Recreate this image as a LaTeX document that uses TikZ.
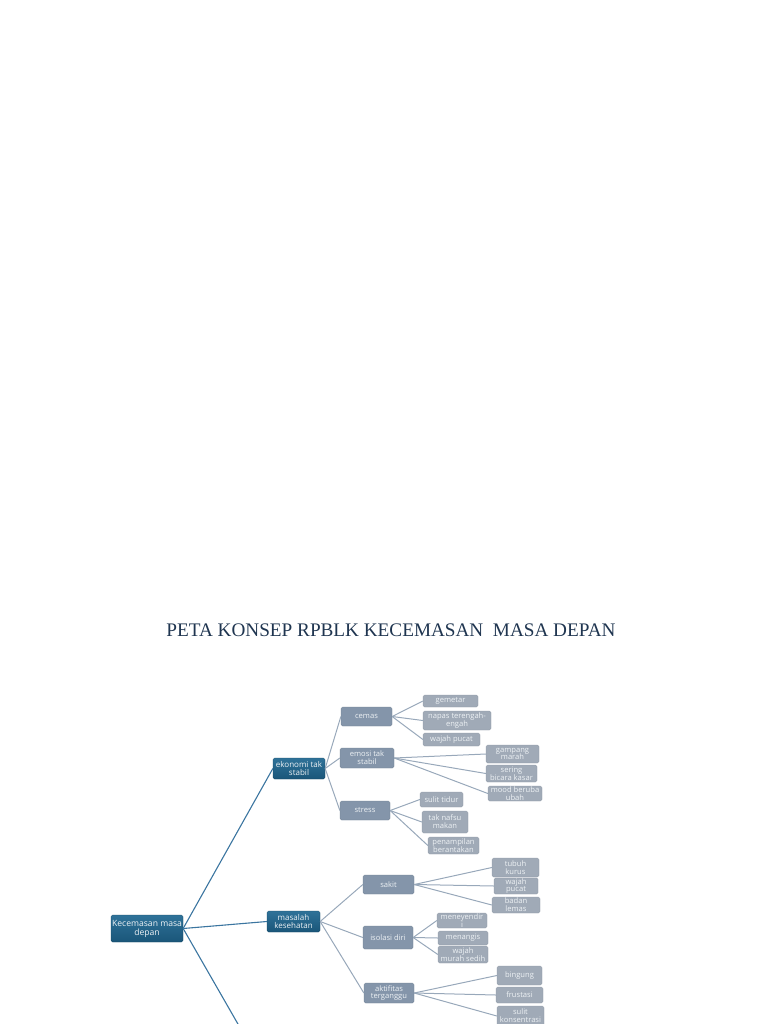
\documentclass[tikz,border=0pt]{standalone}
\usepackage{fontspec}
\setmainfont{Liberation Serif}
\newfontfamily\nodefont{Open Sans}
\definecolor{titlec}{HTML}{1F3550}
\definecolor{darktop}{HTML}{2F7299}
\definecolor{darkbot}{HTML}{1A5679}
\definecolor{midc}{HTML}{8495AA}
\definecolor{leafc}{HTML}{A0AAB7}
\definecolor{rootedge}{HTML}{3B75A0}
\definecolor{subedge}{HTML}{98A8BA}
\definecolor{txtc}{HTML}{EEF2F5}
\begin{document}
\begin{tikzpicture}[x=1pt,y=-1pt,
  box/.style={rounded corners=1.5pt, inner sep=0.3pt, align=center, text=txtc,
    font=\nodefont\fontsize{7.6}{7.9}\selectfont},
  darkbox/.style={box, top color=darktop, bottom color=darkbot, draw=darkbot!80!black, line width=0.3pt},
  midbox/.style={box, fill=midc, draw=midc!85!black, line width=0.3pt},
  leafbox/.style={box, fill=leafc, draw=leafc!90!black, line width=0.3pt},
  rootline/.style={draw=rootedge, line width=1.1pt},
  subline/.style={draw=subedge, line width=1pt}]
\useasboundingbox (0,0) rectangle (768,1024);
\clip (0,0) rectangle (768,1024);
\node[font=\fontsize{19.2}{22}\selectfont, text=titlec] (title) at (391,630) {PETA KONSEP RPBLK KECEMASAN\ \ MASA DEPAN};

% root and level 1
\node[darkbox, minimum width=72, minimum height=27, font=\nodefont\fontsize{8.6}{9}\selectfont] (root) at (147,928.5) {Kecemasan masa\\depan};
\node[darkbox, minimum width=52, minimum height=21, font=\nodefont\fontsize{8}{8.3}\selectfont] (eko) at (299,768.5) {ekonomi tak\\stabil};
\node[darkbox, minimum width=53, minimum height=21, font=\nodefont\fontsize{8}{8.3}\selectfont] (mas) at (293.5,921.5) {masalah\\kesehatan};
\coordinate (off) at (250,1045);

% level 2
\node[midbox, minimum width=51, minimum height=19] (cemas) at (366.5,716.5) {cemas};
\node[midbox, minimum width=54, minimum height=20] (emosi) at (367,758) {emosi tak\\stabil};
\node[midbox, minimum width=50, minimum height=19] (stress) at (365,810.5) {stress};
\node[midbox, minimum width=51, minimum height=19] (sakit) at (388.5,884.5) {sakit};
\node[midbox, minimum width=50, minimum height=23] (isolasi) at (388,937.5) {isolasi diri};
\node[midbox, minimum width=50, minimum height=20] (aktif) at (389,993) {aktifitas\\terganggu};

% leaves
\node[leafbox, minimum width=55, minimum height=12] (gemetar) at (450.5,701) {gemetar};
\node[leafbox, minimum width=68, minimum height=19] (napas) at (457,720.5) {napas terengah-\\engah};
\node[leafbox, minimum width=57, minimum height=13] (wajah1) at (451.5,739.5) {wajah pucat};
\node[leafbox, minimum width=53, minimum height=18] (gampang) at (512.5,754) {gampang\\marah};
\node[leafbox, minimum width=51, minimum height=17] (sering) at (511.5,773.5) {sering\\bicara kasar};
\node[leafbox, minimum width=54, minimum height=15] (mood) at (515,793.5) {mood beruba\\ubah};
\node[leafbox, minimum width=43, minimum height=15] (sulit) at (441.5,799.5) {sulit tidur};
\node[leafbox, minimum width=46, minimum height=22] (nafsu) at (445,822) {tak nafsu\\makan};
\node[leafbox, minimum width=51, minimum height=17] (penampilan) at (453.5,845.5) {penampilan\\berantakan};
\node[leafbox, minimum width=47, minimum height=19] (tubuh) at (515.5,867.5) {tubuh\\kurus};
\node[leafbox, minimum width=44, minimum height=16] (wajah2) at (516,886) {wajah\\pucat};
\node[leafbox, minimum width=48, minimum height=16] (badan) at (516,905) {badan\\lemas};
\node[leafbox, minimum width=50, minimum height=15] (menyendiri) at (462,920.5) {meneyendir\\i};
\node[leafbox, minimum width=50, minimum height=14] (menangis) at (463,938) {menangis};
\node[leafbox, minimum width=50, minimum height=17] (wajah3) at (463,954.5) {wajah\\murah sedih};
\node[leafbox, minimum width=45, minimum height=19] (bingung) at (519.5,975.5) {bingung};
\node[leafbox, minimum width=47, minimum height=16] (frustasi) at (519.5,995) {frustasi};
\node[leafbox, minimum width=47, minimum height=20] (konsentrasi) at (520.5,1016) {sulit\\konsentrasi};

% connectors
\draw[rootline] (root.east) -- (eko.west);
\draw[rootline] (root.east) -- (mas.west);
\draw[rootline] (root.east) -- (off);
\foreach \a/\b in {eko/cemas, eko/emosi, eko/stress, mas/sakit, mas/isolasi, mas/aktif,
  cemas/gemetar, cemas/napas, cemas/wajah1, emosi/gampang, emosi/sering, emosi/mood,
  stress/sulit, stress/nafsu, stress/penampilan, sakit/tubuh, sakit/wajah2, sakit/badan,
  isolasi/menyendiri, isolasi/menangis, isolasi/wajah3, aktif/bingung, aktif/frustasi, aktif/konsentrasi}
  \draw[subline] (\a.east) -- (\b.west);
\end{tikzpicture}
\end{document}
